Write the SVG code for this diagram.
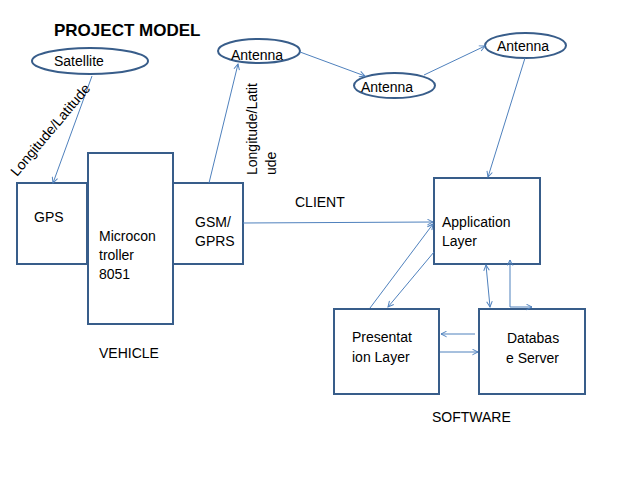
<svg xmlns="http://www.w3.org/2000/svg" width="638" height="478" viewBox="0 0 638 478">
<defs>
<marker id="ah" viewBox="0 0 10 10" refX="9" refY="5" markerWidth="7" markerHeight="7" markerUnits="userSpaceOnUse" orient="auto-start-reverse">
<path d="M1,1 L9,5 L1,9" fill="none" stroke="#4f81bd" stroke-width="1.4"/>
</marker>
</defs>
<style>
.box{fill:#fff;stroke:#385d8a;stroke-width:2}
.ell{fill:#fff;stroke:#385d8a;stroke-width:2}
.t{font-family:"Liberation Sans",Arial,sans-serif;font-size:14px;fill:#000}
.title{font-family:"Liberation Sans",Arial,sans-serif;font-size:17px;font-weight:bold;fill:#000}
.c{fill:none;stroke:#4f81bd;stroke-width:1}
.a{marker-end:url(#ah)}
.b{marker-start:url(#ah);marker-end:url(#ah)}
</style>
<rect width="638" height="478" fill="#fff"/>
<text class="title" x="54" y="36">PROJECT MODEL</text>
<g id="satellite"><ellipse class="ell" cx="90" cy="61" rx="58" ry="13"/><text class="t" x="54" y="66">Satellite</text></g>
<g id="antenna1"><ellipse class="ell" cx="259" cy="51" rx="41" ry="12"/><text class="t" x="231" y="60">Antenna</text></g>
<g id="antenna2"><ellipse class="ell" cx="394.5" cy="85.5" rx="40.5" ry="12.5"/><text class="t" x="361" y="92">Antenna</text></g>
<g id="antenna3"><ellipse class="ell" cx="525.5" cy="45.5" rx="40.5" ry="12.5"/><text class="t" x="497" y="51">Antenna</text></g>
<g id="gps"><rect class="box" x="17" y="183" width="70" height="81"/><text class="t" x="34" y="222">GPS</text></g>
<g id="gsm"><rect class="box" x="173" y="183" width="70" height="81"/><text class="t" x="195" y="227">GSM/</text><text class="t" x="195" y="246">GPRS</text></g>
<g id="micro"><rect class="box" x="88" y="153" width="85" height="171"/><text class="t" x="99" y="241">Microcon</text><text class="t" x="99" y="260">troller</text><text class="t" x="99" y="279">8051</text></g>
<g id="application"><rect class="box" x="434" y="178" width="106" height="86"/><text class="t" x="442" y="227">Application</text><text class="t" x="442" y="246">Layer</text></g>
<g id="presentation"><rect class="box" x="334" y="309" width="105" height="85"/><text class="t" x="352" y="342">Presentat</text><text class="t" x="352" y="362">ion Layer</text></g>
<g id="database"><rect class="box" x="479" y="309" width="106" height="85"/><text class="t" x="507" y="343">Databas</text><text class="t" x="506" y="363">e Server</text></g>
<g id="connectors">
<line class="c a" x1="92" y1="76" x2="53" y2="183"/>
<line class="c a" x1="209" y1="183" x2="238" y2="64"/>
<line class="c a" x1="300" y1="52" x2="365" y2="76"/>
<line class="c a" x1="424" y1="75" x2="485" y2="46"/>
<line class="c a" x1="525" y1="58" x2="488" y2="177"/>
<line class="c a" x1="243" y1="223" x2="433" y2="222"/>
<line class="c a" x1="370" y1="308" x2="433" y2="224"/>
<line class="c a" x1="434" y1="252" x2="388" y2="307"/>
<line class="c b" x1="486" y1="265" x2="490" y2="307"/>
<polyline class="c b" points="510,260 510,307 532,307"/>
<line class="c a" x1="475" y1="334" x2="441" y2="334"/>
<line class="c a" x1="440" y1="352" x2="478" y2="352"/>
</g>
<g id="labels">
<text class="t" transform="translate(17,177) rotate(-50)">Longitude/Latitude</text>
<text class="t" transform="translate(257,175) rotate(-90)">Longitude/Latit<tspan x="0" dy="19">ude</tspan></text>
<text class="t" x="295" y="207">CLIENT</text>
<text class="t" x="99" y="358">VEHICLE</text>
<text class="t" x="432" y="422">SOFTWARE</text>
</g>
</svg>
